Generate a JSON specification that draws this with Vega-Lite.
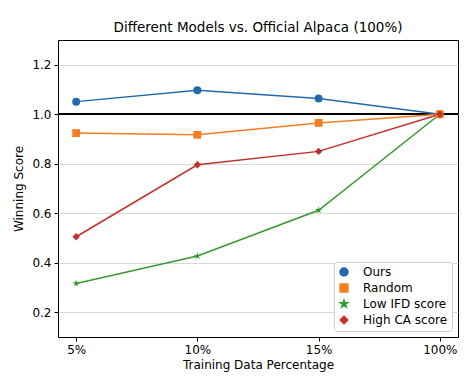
{
  "$schema": "https://vega.github.io/schema/vega-lite/v6.json",
  "width": 400,
  "height": 297,
  "autosize": {"type": "none"},
  "padding": {"left": 58, "top": 40, "right": 16, "bottom": 47},
  "background": "white",
  "title": {"text": "Different Models vs. Official Alpaca (100%)", "font": "DejaVu Sans", "fontSize": 13.5, "fontWeight": "normal", "color": "#000", "offset": 6},
  "config": {
    "view": {"stroke": "#000", "strokeWidth": 1},
    "font": "DejaVu Sans",
    "legend": {"title": null, "orient": "bottom-right", "offset": 6, "fillColor": "white", "strokeColor": "#cccccc", "cornerRadius": 3, "padding": 4, "labelFont": "DejaVu Sans", "labelFontSize": 12, "labelColor": "#000", "rowPadding": 2, "labelOffset": 13, "symbolStrokeWidth": 1.5}
  },
  "data": {"values": [
    {"pct": "5%", "model": "Ours", "score": 1.051},
    {"pct": "10%", "model": "Ours", "score": 1.097},
    {"pct": "15%", "model": "Ours", "score": 1.064},
    {"pct": "100%", "model": "Ours", "score": 1.0},
    {"pct": "5%", "model": "Random", "score": 0.924},
    {"pct": "10%", "model": "Random", "score": 0.917},
    {"pct": "15%", "model": "Random", "score": 0.965},
    {"pct": "100%", "model": "Random", "score": 1.0},
    {"pct": "5%", "model": "Low IFD score", "score": 0.316},
    {"pct": "10%", "model": "Low IFD score", "score": 0.427},
    {"pct": "15%", "model": "Low IFD score", "score": 0.612},
    {"pct": "100%", "model": "Low IFD score", "score": 1.0},
    {"pct": "5%", "model": "High CA score", "score": 0.505},
    {"pct": "10%", "model": "High CA score", "score": 0.796},
    {"pct": "15%", "model": "High CA score", "score": 0.85},
    {"pct": "100%", "model": "High CA score", "score": 1.0}
  ]},
  "layer": [
    {
      "mark": {"type": "rule", "color": "#000", "strokeWidth": 1},
      "encoding": {"y": {"datum": 1.0, "type": "quantitative"}}
    },
    {
      "mark": {"type": "line", "strokeWidth": 1.5},
      "encoding": {
        "x": {"field": "pct", "type": "ordinal", "sort": ["5%", "10%", "15%", "100%"],
              "scale": {"type": "point", "padding": 0.15},
              "axis": {"title": "Training Data Percentage", "labelAngle": 0, "labelFont": "DejaVu Sans", "labelFontSize": 12, "labelColor": "#000", "titleFont": "DejaVu Sans", "titleFontSize": 12, "titleFontWeight": "normal", "titleColor": "#000", "tickColor": "#000", "domain": false, "grid": false, "tickSize": 4, "labelPadding": 3, "titlePadding": 4}},
        "y": {"field": "score", "type": "quantitative",
              "scale": {"domain": [0.1, 1.3], "nice": false, "zero": false},
              "axis": {"title": "Winning Score", "values": [0.2, 0.4, 0.6, 0.8, 1.0, 1.2], "format": ".1f", "labelFont": "DejaVu Sans", "labelFontSize": 12, "labelColor": "#000", "titleFont": "DejaVu Sans", "titleFontSize": 12, "titleFontWeight": "normal", "titleColor": "#000", "tickColor": "#000", "domain": false, "grid": true, "gridColor": "#d9d9d9", "gridWidth": 1, "tickSize": 4, "labelPadding": 3, "titlePadding": 6}},
        "color": {"field": "model", "type": "nominal",
                  "sort": ["Ours", "Random", "Low IFD score", "High CA score"],
                  "scale": {"domain": ["Ours", "Random", "Low IFD score", "High CA score"], "range": ["#2469ac", "#f57d1f", "#329a2f", "#c42f2a"]}}
      }
    },
    {
      "mark": {"type": "point", "filled": true, "opacity": 1},
      "encoding": {
        "x": {"field": "pct", "type": "ordinal", "sort": ["5%", "10%", "15%", "100%"]},
        "y": {"field": "score", "type": "quantitative"},
        "color": {"field": "model", "type": "nominal",
                  "scale": {"domain": ["Ours", "Random", "Low IFD score", "High CA score"], "range": ["#2469ac", "#f57d1f", "#329a2f", "#c42f2a"]}},
        "shape": {"field": "model", "type": "nominal",
                  "scale": {"domain": ["Ours", "Random", "Low IFD score", "High CA score"], "range": ["circle", "square", "M0,-1L0.2245,-0.309L0.951,-0.309L0.363,0.118L0.588,0.809L0,0.382L-0.588,0.809L-0.363,0.118L-0.951,-0.309L-0.2245,-0.309Z", "diamond"]}},
        "size": {"field": "model", "type": "nominal",
                 "scale": {"domain": ["Ours", "Random", "Low IFD score", "High CA score"], "range": [64, 55, 70, 120]}}
      }
    }
  ]
}
